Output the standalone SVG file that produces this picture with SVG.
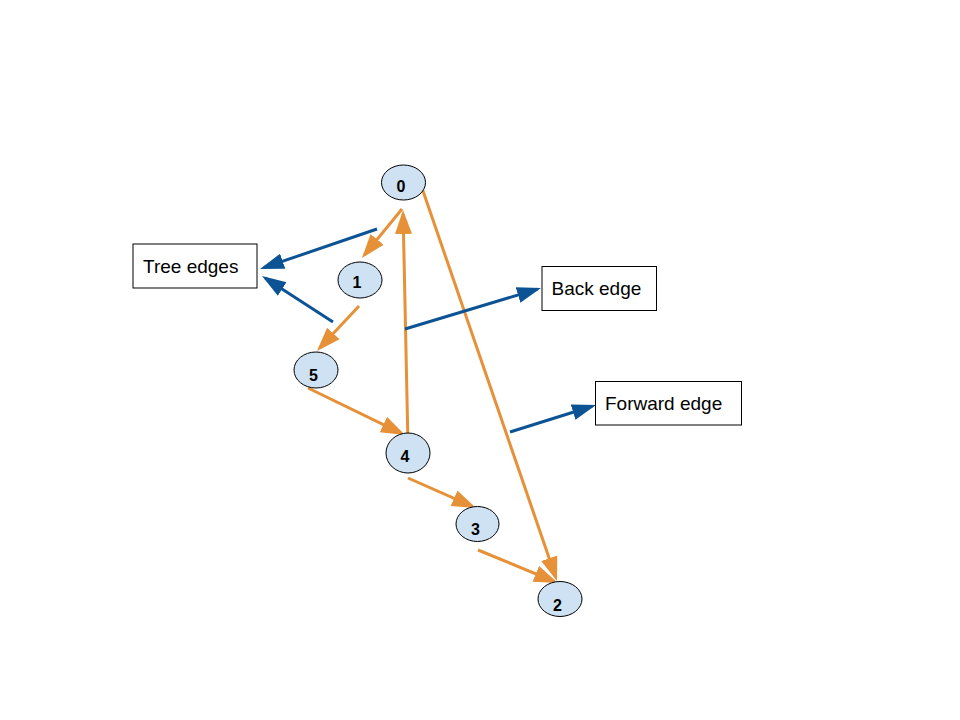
<svg xmlns="http://www.w3.org/2000/svg" width="960" height="720" viewBox="0 0 960 720">
<style>
.node ellipse{fill:#cfe2f3;stroke:#000;stroke-width:1}
.node text{font-family:"Liberation Sans",Arial,sans-serif;font-weight:bold;font-size:16px;text-anchor:middle;fill:#000}
.box rect{fill:#fff;stroke:#000;stroke-width:1}
.box text{font-family:"Liberation Sans",Arial,sans-serif;font-size:19px;fill:#000}
.or{stroke:#e69138;stroke-width:3;fill:none;marker-end:url(#ao)}
.bl{stroke:#0b5394;stroke-width:3;fill:none;marker-end:url(#ab)}
</style>
<defs>
<marker id="ao" markerUnits="userSpaceOnUse" markerWidth="26" markerHeight="20" refX="20" refY="9" orient="auto"><path d="M0,0.5 L24,9 L0,17.5 z" fill="#e69138"/></marker>
<marker id="ab" markerUnits="userSpaceOnUse" markerWidth="26" markerHeight="20" refX="20" refY="9" orient="auto"><path d="M0,1 L24,9 L0,17 z" fill="#0b5394"/></marker>
</defs>
<rect width="960" height="720" fill="#fff"/>
<g id="connectors">
<path class="or" d="M402,209 L364.5,254.9"/>
<path class="or" d="M408,445 L403.1,214"/>
<path class="or" d="M359,306 L319.7,348.1"/>
<path class="or" d="M308,388 L401.4,433.3"/>
<path class="or" d="M408,478 L472.3,506.4"/>
<path class="or" d="M478,550 L554.3,581.5"/>
<path class="or" d="M422,188 L555.7,577.2"/>
<path class="bl" d="M377,229 L263.8,267.7"/>
<path class="bl" d="M333,322 L265.4,278.2"/>
<path class="bl" d="M405,329 L537.2,289.2"/>
<path class="bl" d="M510,432 L592.2,406.2"/>
</g>
<g id="n0" class="node"><ellipse cx="403.5" cy="182.5" rx="22" ry="17.5"/><text x="401" y="192">0</text></g>
<g id="n1" class="node"><ellipse cx="360" cy="280" rx="22" ry="18"/><text x="357" y="288">1</text></g>
<g id="n5" class="node"><ellipse cx="316" cy="370" rx="22" ry="18"/><text x="313.5" y="381">5</text></g>
<g id="n4" class="node"><ellipse cx="408" cy="453" rx="22" ry="20"/><text x="405" y="462">4</text></g>
<g id="n3" class="node"><ellipse cx="477.5" cy="524" rx="21.5" ry="17.5"/><text x="475.5" y="535">3</text></g>
<g id="n2" class="node"><ellipse cx="560" cy="599" rx="22" ry="17.5"/><text x="557.5" y="610.5">2</text></g>
<g id="tree" class="box"><rect x="133" y="244" width="124" height="44"/><text x="143" y="272.5">Tree edges</text></g>
<g id="back" class="box"><rect x="542" y="266.5" width="114.5" height="44"/><text x="551.5" y="295">Back edge</text></g>
<g id="forward" class="box"><rect x="595.5" y="381.5" width="146" height="43.5"/><text x="605" y="410">Forward edge</text></g>
</svg>
